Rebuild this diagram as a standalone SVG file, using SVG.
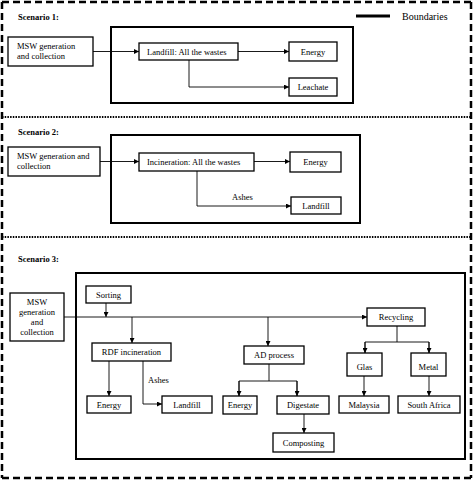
<svg xmlns="http://www.w3.org/2000/svg" width="474" height="481" viewBox="0 0 474 481">
<defs>
<marker id="ah" viewBox="0 0 10 10" refX="10" refY="5" markerWidth="5" markerHeight="5" orient="auto" markerUnits="userSpaceOnUse"><path d="M0,0 L10,5 L0,10 z" fill="#000"/></marker>
</defs>
<style>
text{font-family:"Liberation Serif","Times New Roman",serif;font-size:8.5px;fill:#000}
.t{font-weight:bold}
.c{text-anchor:middle}
.n{fill:#fff;stroke:#000;stroke-width:1.3}
.b{fill:none;stroke:#000;stroke-width:2}
.l{fill:none;stroke:#000;stroke-width:0.9}
.a{marker-end:url(#ah)}
.dash{fill:none;stroke:#000;stroke-width:2.5;stroke-dasharray:7 4}
.dot{fill:none;stroke:#000;stroke-width:2;stroke-dasharray:1.5 1.2}
</style>
<rect width="474" height="481" fill="#fff"/>
<g id="frame">
<line class="dash" x1="2" y1="2" x2="472" y2="2"/>
<line class="dash" x1="2" y1="478" x2="472" y2="478"/>
<line class="dash" x1="2" y1="2" x2="2" y2="478"/>
<line class="dash" x1="471" y1="2" x2="471" y2="478"/>
<line class="dot" x1="2" y1="117" x2="471" y2="117"/>
<line class="dot" x1="2" y1="237" x2="471" y2="237"/>
</g>
<g id="legend">
<line x1="356" y1="16" x2="390" y2="16" stroke="#000" stroke-width="3"/>
<text x="402" y="19.5" style="font-size:10px">Boundaries</text>
</g>
<g id="titles">
<text class="t" x="18" y="20">Scenario 1:</text>
<text class="t" x="18" y="135">Scenario 2:</text>
<text class="t" x="18" y="262">Scenario 3:</text>
</g>
<g id="boundaries">
<rect class="b" x="111" y="27" width="242" height="76"/>
<rect class="b" x="111" y="135" width="249" height="88"/>
<rect class="b" x="76" y="273" width="389" height="186"/>
</g>
<g id="connectors">
<line class="l a" x1="93" y1="51.5" x2="139" y2="51.5"/>
<line class="l a" x1="238" y1="51.5" x2="289" y2="51.5"/>
<polyline class="l a" points="189,60 189,87 289,87"/>
<line class="l a" x1="100" y1="161.5" x2="139" y2="161.5"/>
<line class="l a" x1="254" y1="161.5" x2="290" y2="161.5"/>
<polyline class="l a" points="197,171 197,206 291,206"/>
<text x="232" y="200">Ashes</text>
<line class="l a" x1="64" y1="317" x2="367" y2="317"/>
<line class="l a" x1="106" y1="303" x2="106" y2="317"/>
<line class="l a" x1="132" y1="317" x2="132" y2="343"/>
<line class="l a" x1="268" y1="317" x2="268" y2="346"/>
<line class="l" x1="397" y1="326" x2="397" y2="342"/>
<polyline class="l" points="365,353 365,342 429,342 429,353"/>
<line class="l a" x1="365" y1="342" x2="365" y2="353"/>
<line class="l a" x1="429" y1="342" x2="429" y2="353"/>
<line class="l a" x1="364" y1="376" x2="364" y2="396"/>
<line class="l a" x1="429" y1="376" x2="429" y2="396"/>
<line class="l" x1="269" y1="364" x2="269" y2="381"/>
<polyline class="l" points="239,396 239,381 297,381 297,396"/>
<line class="l a" x1="239" y1="381" x2="239" y2="396"/>
<line class="l a" x1="297" y1="381" x2="297" y2="396"/>
<line class="l a" x1="304" y1="414" x2="304" y2="433"/>
<line class="l a" x1="109" y1="361" x2="109" y2="396"/>
<polyline class="l a" points="143,361 143,404 162,404"/>
<text x="148" y="383">Ashes</text>
</g>
<g id="s1-msw"><rect class="n" x="8" y="37" width="85" height="29"/><text x="17" y="49">MSW generation</text><text x="17" y="59">and collection</text></g>
<g id="s1-landfill"><rect class="n" x="139" y="43" width="99" height="17"/><text x="147" y="54.5">Landfill: All the wastes</text></g>
<g id="s1-energy"><rect class="n" x="289" y="42" width="48" height="19"/><text class="c" x="313" y="54.5">Energy</text></g>
<g id="s1-leachate"><rect class="n" x="289" y="78" width="48" height="18"/><text class="c" x="313" y="90">Leachate</text></g>
<g id="s2-msw"><rect class="n" x="8" y="147" width="92" height="29"/><text x="17" y="159">MSW generation and</text><text x="17" y="169">collection</text></g>
<g id="s2-incineration"><rect class="n" x="139" y="153" width="115" height="18"/><text x="147" y="164.5">Incineration:  All the wastes</text></g>
<g id="s2-energy"><rect class="n" x="290" y="152" width="51" height="20"/><text class="c" x="315.5" y="164.5">Energy</text></g>
<g id="s2-landfill"><rect class="n" x="291" y="197" width="50" height="17"/><text class="c" x="316" y="208.5">Landfill</text></g>
<g id="s3-msw"><rect class="n" x="10" y="293" width="54" height="48"/><text class="c" x="37" y="305">MSW</text><text class="c" x="37" y="315">generation</text><text class="c" x="37" y="325">and</text><text class="c" x="37" y="335">collection</text></g>
<g id="s3-sorting"><rect class="n" x="86" y="286" width="45" height="17"/><text class="c" x="108.5" y="297.5">Sorting</text></g>
<g id="s3-rdf"><rect class="n" x="92" y="343" width="79" height="18"/><text class="c" x="131.5" y="355">RDF incineration</text></g>
<g id="s3-rdf-energy"><rect class="n" x="87" y="396" width="44" height="17"/><text class="c" x="109" y="407.5">Energy</text></g>
<g id="s3-rdf-landfill"><rect class="n" x="162" y="396" width="50" height="17"/><text class="c" x="187" y="407.5">Landfill</text></g>
<g id="s3-ad"><rect class="n" x="244" y="346" width="60" height="18"/><text class="c" x="274" y="358">AD process</text></g>
<g id="s3-ad-energy"><rect class="n" x="223" y="396" width="34" height="18"/><text class="c" x="240" y="408">Energy</text></g>
<g id="s3-digestate"><rect class="n" x="277" y="396" width="52" height="18"/><text class="c" x="303" y="408">Digestate</text></g>
<g id="s3-composting"><rect class="n" x="273" y="433" width="61" height="19"/><text class="c" x="303.5" y="445.5">Composting</text></g>
<g id="s3-recycling"><rect class="n" x="367" y="308" width="58" height="18"/><text class="c" x="396" y="320">Recycling</text></g>
<g id="s3-glas"><rect class="n" x="347" y="353" width="35" height="23"/><text class="c" x="364.5" y="369.5">Glas</text></g>
<g id="s3-metal"><rect class="n" x="411" y="353" width="35" height="23"/><text class="c" x="428.5" y="369.5">Metal</text></g>
<g id="s3-malaysia"><rect class="n" x="339" y="396" width="50" height="17"/><text class="c" x="364" y="407.5">Malaysia</text></g>
<g id="s3-southafrica"><rect class="n" x="398" y="396" width="62" height="17"/><text class="c" x="429" y="407.5">South Africa</text></g>
</svg>
